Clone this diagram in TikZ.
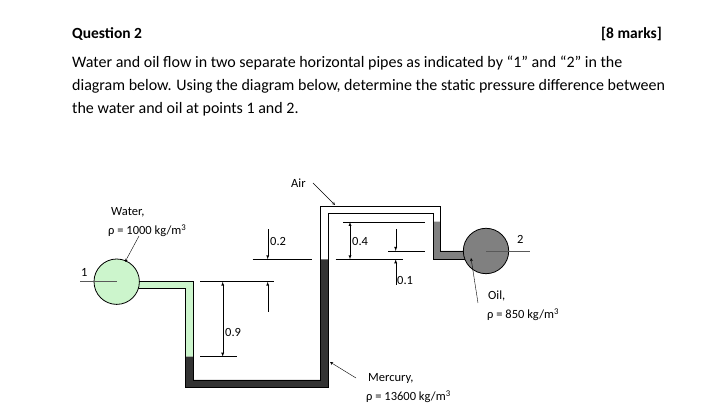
\documentclass[tikz,border=0pt]{standalone}
\usepackage{fontspec}
\setmainfont{Carlito}
\begin{document}
\begin{tikzpicture}[x=1pt,y=-1pt,
  body/.style={anchor=base west,inner sep=0pt,font=\fontsize{16}{18}\selectfont},
  lab/.style={anchor=base west,inner sep=0pt,font=\fontsize{12.5}{14}\selectfont},
  dim/.style={thin,-latex},
  pipe/.style={line width=0.8pt},
  ptr/.style={thin,-stealth}]
\useasboundingbox (0,0) rectangle (724,419);
\definecolor{water}{RGB}{204,245,204}
\definecolor{merc}{RGB}{51,51,51}
\definecolor{oil}{RGB}{128,128,128}
% text
\node[body,font=\fontsize{15.5}{17}\selectfont\bfseries] (q) at (72,39) {Question 2};
\node[body,font=\fontsize{15.5}{17}\selectfont\bfseries,anchor=base east] (m) at (662,39) {[8 marks]};
\node[body] (l1) at (72,68) {Water and oil flow in two separate horizontal pipes as indicated by “1” and “2” in the};
\node[body] (l2) at (72,91) {diagram below. Using the diagram below, determine the static pressure difference between};
\node[body] (l3) at (72,114) {the water and oil at points 1 and 2.};
% fills
\fill[water] (117,281.7) rectangle (193,288.3) (185,281.7) rectangle (193,356.7);
\fill[merc] (185,356.7) -- (193,356.7) -- (193,380) -- (320,380) -- (320,259.3) -- (328,259.3) -- (328,387) -- (185,387) -- cycle;
\fill[oil] (433,221.7) rectangle (440.7,259.3) (433,251) rectangle (486,259.3);
% pipe outlines
\draw[pipe] (138,281.7) -- (193,281.7) -- (193,380) -- (320,380) -- (320,206) -- (440.7,206) -- (440.7,251) -- (466,251);
\draw[pipe] (138,288.3) -- (185,288.3) -- (185,387) -- (328,387) -- (328,213.3) -- (433,213.3) -- (433,259.3) -- (466,259.3);
% circles
\node[circle,draw,pipe,fill=water,minimum size=45.4pt,inner sep=0pt] (c1) at (116.7,281.7) {};
\node[circle,draw,pipe,fill=oil,minimum size=45.4pt,inner sep=0pt] (c2) at (486,251) {};
\coordinate (p1a) at (80,281.7);
\draw[thick,gray!70!black] (p1a) -- (c1.center);
\coordinate (p2a) at (530,251);
\draw[thick,gray!70!black] (c2.center) -- (p2a);
\node[lab] (n1) at (81,277) {1};
\node[lab] (n2) at (517,244) {2};
% reference lines
\draw[thin] (252.7,259.3) -- (312,259.3);
\draw[thin] (200,281.7) -- (274,281.7);
\draw[thin] (200,356.7) -- (236.7,356.7);
\draw[thin] (343,222) -- (425,222);
\draw[thin] (335.7,259.3) -- (402.7,259.3);
\draw[thin] (388,251) -- (425,251);
% dimension arrows
\draw[dim] (267.7,229.3) -- (267.7,259.3);
\draw[dim] (267.7,311.7) -- (267.7,281.7);
\draw[thin,latex-latex] (222.7,281.7) -- (222.7,356.7);
\draw[thin,latex-latex] (350,222) -- (350,259.3);
\draw[dim] (395.7,229) -- (395.7,251);
\draw[dim] (395.7,285) -- (395.7,259.3);
\node[lab] (d02) at (270,246) {0.2};
\node[lab] (d09) at (225,337) {0.9};
\node[lab] (d04) at (352,246) {0.4};
\node[lab] (d01) at (397,285) {0.1};
% labels
\node[lab] (air) at (291,188) {Air};
\node[lab] (wat) at (111,216) {Water,};
\node[lab] (watr) at (108,235) {ρ = 1000 kg/m\textsuperscript{3}};
\node[lab] (oilt) at (488,300) {Oil,};
\node[lab] (oilr) at (487,319) {ρ = 850 kg/m\textsuperscript{3}};
\node[lab] (mer) at (368,382) {Mercury,};
\node[lab] (merr) at (366,401) {ρ = 13600 kg/m\textsuperscript{3}};
\coordinate (aa) at (335,205);
\coordinate (wa) at (125,262);
\coordinate (oa) at (471,258);
\coordinate (ma) at (330,362);
\draw[ptr] (313,183) -- (aa);
\draw[ptr] (139,236) -- (wa);
\draw[ptr] (478,303) -- (oa);
\draw[ptr] (356,378) -- (ma);
\end{tikzpicture}
\end{document}
